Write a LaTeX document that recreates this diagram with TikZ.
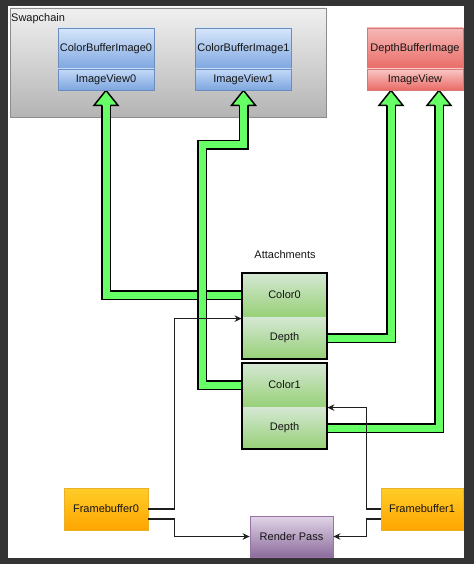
\documentclass[tikz,border=0pt]{standalone}
\usepackage{fontspec}
\setmainfont{Liberation Sans}
\usetikzlibrary{arrows.meta,calc}
\pgfdeclarelayer{back}
\pgfdeclarelayer{mid}
\pgfsetlayers{back,mid,main}
\definecolor{framec}{HTML}{343434}
\definecolor{txt}{HTML}{141414}
\definecolor{fatgreen}{HTML}{66FF66}
\newcommand\fatarrow[2]{%
  \draw[fatout] #1;
  \draw[fatin] #1;
  \fill[fatgreen] ([xshift=-12pt,yshift=-15pt]#2) -- (#2) -- ([xshift=12pt,yshift=-15pt]#2) -- cycle;
  \draw[headline] ([xshift=-4.25pt,yshift=-15pt]#2) -- ([xshift=-12pt,yshift=-15pt]#2) -- (#2) -- ([xshift=12pt,yshift=-15pt]#2) -- ([xshift=4.25pt,yshift=-15pt]#2);
}
\begin{document}
\begin{tikzpicture}[x=1pt,y=-1pt,
  lbl/.style={font=\fontsize{11}{13}\selectfont, text=txt, inner sep=0pt},
  cell/.style={rectangle, inner sep=0pt, minimum width=96pt, text=txt, font=\fontsize{11}{13}\selectfont, line width=0.8pt},
  blueA/.style={top color={rgb,255:red,214;green,230;blue,251}, bottom color={rgb,255:red,126;green,166;blue,224}, draw={rgb,255:red,108;green,142;blue,191}},
  blueB/.style={top color={rgb,255:red,196;green,218;blue,247}, bottom color={rgb,255:red,126;green,166;blue,224}, draw={rgb,255:red,108;green,142;blue,191}},
  redA/.style={top color={rgb,255:red,246;green,184;blue,182}, bottom color={rgb,255:red,234;green,107;blue,102}, draw={rgb,255:red,214;green,120;blue,118}},
  redB/.style={top color={rgb,255:red,248;green,200;blue,198}, bottom color={rgb,255:red,234;green,107;blue,102}, draw={rgb,255:red,214;green,120;blue,118}},
  greenc/.style={top color={rgb,255:red,213;green,232;blue,212}, bottom color={rgb,255:red,151;green,208;blue,119}, minimum width=85pt},
  orangec/.style={top color={rgb,255:red,255;green,205;blue,40}, bottom color={rgb,255:red,255;green,165;blue,0}, draw={rgb,255:red,235;green,175;blue,40}},
  purplec/.style={top color={rgb,255:red,225;green,213;blue,231}, bottom color={rgb,255:red,140;green,108;blue,156}, draw={rgb,255:red,150;green,115;blue,166}},
  swapbox/.style={rectangle, top color={rgb,255:red,240;green,240;blue,240}, bottom color={rgb,255:red,180;green,180;blue,180}, draw={rgb,255:red,140;green,140;blue,140}, line width=0.8pt},
  fatout/.style={line width=10pt, black, line join=miter},
  fatin/.style={line width=7pt, fatgreen, line join=miter},
  headline/.style={line width=1.5pt, black, line join=miter},
  thinarr/.style={line width=1.4pt, draw={rgb,255:red,30;green,30;blue,30}, -{Stealth[length=7pt,width=6.5pt]}},
]
\useasboundingbox (0,0) rectangle (474,564);
\begin{pgfonlayer}{back}
  \fill[framec] (0,0) rectangle (474,564);
  \fill[white] (8,6) rectangle (464,558);
  \node[swapbox, minimum width=316pt, minimum height=109pt] (sc) at (168,62.5) {};
  \node[lbl, anchor=west] (scl) at (11,19) {Swapchain};
\end{pgfonlayer}

% image nodes
\node[cell, blueA, minimum height=41pt] (cb0) at (106,48.5) {ColorBufferImage0};
\node[cell, blueB, minimum height=21pt] (iv0) at (106,79.5) {ImageView0};
\node[cell, blueA, minimum height=41pt] (cb1) at (243.5,48.5) {ColorBufferImage1};
\node[cell, blueB, minimum height=21pt] (iv1) at (243.5,79.5) {ImageView1};
\node[cell, redA, minimum height=41pt] (dbi) at (415,48.5) {DepthBufferImage};
\node[cell, redB, minimum height=21pt] (dbv) at (415,79.5) {ImageView};

% attachments
\node[lbl] (att) at (285,255) {Attachments};
\node[cell, greenc, minimum height=44pt] (c0) at (284.5,295) {Color0};
\node[cell, greenc, minimum height=42pt] (d0) at (284.5,338) {Depth};
\node[cell, greenc, minimum height=44pt] (c1) at (284.5,385) {Color1};
\node[cell, greenc, minimum height=42pt] (d1) at (284.5,428) {Depth};
\draw[line width=2pt, black] (c0.north west) rectangle (d0.south east);
\draw[line width=2pt, black] (c1.north west) rectangle (d1.south east);

% framebuffers and render pass
\node[cell, orangec, minimum width=84pt, minimum height=42pt] (fb0) at (106,509) {Framebuffer0};
\node[cell, orangec, minimum width=82pt, minimum height=42pt] (fb1) at (422,509) {Framebuffer1};
\node[cell, purplec, minimum width=83pt, minimum height=41pt] (rp) at (291.5,536.5) {Render Pass};

\coordinate (k1) at (202,145);
\coordinate (dt0) at ([xshift=-24pt]dbv.south);
\coordinate (dt1) at ([xshift=24pt]dbv.south);

\begin{pgfonlayer}{mid}
  \fatarrow{(c0.west) -| ([yshift=-15pt]iv0.south)}{iv0.south}
  \fatarrow{(c1.west) -| (k1) -| ([yshift=-15pt]iv1.south)}{iv1.south}
  \fatarrow{(d0.east) -| ([yshift=-15pt]dt0)}{dt0}
  \fatarrow{(d1.east) -| ([yshift=-15pt]dt1)}{dt1}
\end{pgfonlayer}

% thin connectors
\draw[thinarr] (fb0.east) -- ++(26,0) |- ([yshift=-2pt]d0.north west);
\draw[thinarr] ([yshift=-10pt]fb0.east) -- ++(26,0) |- (rp.west);
\draw[thinarr] (fb1.west) -- ++(-14,0) |- ([yshift=-1pt]d1.north east);
\draw[thinarr] ([yshift=-10pt]fb1.west) -- ++(-14,0) |- (rp.east);
\end{tikzpicture}
\end{document}
